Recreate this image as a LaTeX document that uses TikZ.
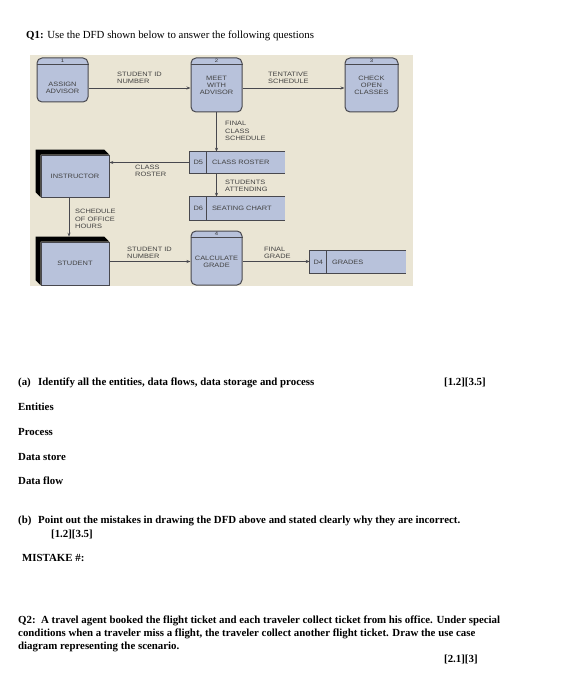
\documentclass[tikz,border=0pt]{standalone}
\usepackage{fontspec}
\setmainfont{Liberation Serif}
\newfontfamily\dfdfont[FakeStretch=1.18]{Liberation Sans}
\usetikzlibrary{arrows.meta}

\definecolor{dfdpaper}{RGB}{234,229,212}
\definecolor{dfdfill}{RGB}{184,194,219}
\definecolor{dfdline}{RGB}{72,72,78}

\begin{document}
\begin{tikzpicture}[x=1pt,y=-1pt,
  qtext/.style={anchor=base west, inner sep=0pt, font=\fontsize{10.85}{13}\selectfont},
  qbold/.style={qtext, font=\fontsize{10.85}{13}\selectfont\bfseries},
  process/.style={shape=rectangle, rounded corners=5pt, draw=dfdline, fill=dfdfill, line width=1pt, minimum width=51pt, inner sep=0pt},
  entity/.style={shape=rectangle, draw=dfdline, fill=dfdfill, line width=0.6pt, minimum width=68pt, inner sep=0pt},
  store/.style={shape=rectangle, fill=dfdfill, minimum width=95pt, inner sep=0pt},
  storeline/.style={draw=dfdline, line width=0.9pt},
  dfdtext/.style={inner sep=0pt, align=center, text=black!75, font=\dfdfont\fontsize{6.3}{7.3}\selectfont},
  flowlabel/.style={dfdtext, anchor=west, align=left},
  pnum/.style={inner sep=0pt, text=black!80, font=\dfdfont\fontsize{5}{5}\selectfont},
  flow/.style={draw=dfdline, line width=0.8pt, -{Stealth[length=4pt,width=3pt]}}]

\useasboundingbox (0,0) rectangle (560,690);
\fill[white] (0,0) rectangle (560,690);

% question text
\path (26,39) node (Q1) [qtext] {\textbf{Q1:} Use the DFD shown below to answer the following questions};

% diagram background
\fill[dfdpaper] (30,55) rectangle (413,286);

% processes
\path (62.5,80) node (P1) [process, minimum height=44pt] {};
\path (216.5,85) node (P2) [process, minimum height=54pt] {};
\path (371.5,85) node (P3) [process, minimum width=53pt, minimum height=54pt] {};
\path (216.5,258) node (P4) [process, minimum height=54pt] {};
\foreach \p/\n in {P1/1,P2/2,P3/3,P4/4} {
  \draw[dfdline, line width=0.7pt] ([yshift=-6.5pt]\p.north west) -- ([yshift=-6.5pt]\p.north east);
  \path ([yshift=-3.3pt]\p.north) node [pnum] {\n};
}
\path (62.5,88) node (P1t) [dfdtext] {ASSIGN\\ADVISOR};
\path (216.5,85.5) node (P2t) [dfdtext] {MEET\\WITH\\ADVISOR};
\path (371.5,85.5) node (P3t) [dfdtext] {CHECK\\OPEN\\CLASSES};
\path (216.5,261.5) node (P4t) [dfdtext] {CALCULATE\\GRADE};

% external entities
\path (75,176) node (I) [entity, minimum height=42pt] {};
\path (75,263.5) node (S) [entity, minimum height=43pt] {};
\foreach \e in {I,S} {
  \fill[black] (\e.south west) -- ([xshift=-5pt,yshift=5pt]\e.south west)
    -- ([xshift=-5pt,yshift=5pt]\e.north west) -- ([xshift=-5pt,yshift=5pt]\e.north east)
    -- (\e.north east) -- (\e.north west) -- cycle;
}
\path (I.center) node (It) [dfdtext] {INSTRUCTOR};
\path (S.center) node (St) [dfdtext] {STUDENT};

% data stores
\path (237.5,162.5) node (D5) [store, minimum height=21pt] {};
\path (237.5,208.5) node (D6) [store, minimum height=23pt] {};
\path (358,262) node (D4) [store, minimum width=96pt, minimum height=22pt] {};
\foreach \d in {D5,D6,D4} {
  \draw[storeline] (\d.north east) -- (\d.north west) -- (\d.south west) -- (\d.south east);
  \draw[storeline] ([xshift=17pt]\d.north west) -- ([xshift=17pt]\d.south west);
}
\path ([xshift=8.5pt]D5.west) node (D5id) [dfdtext] {D5};
\path ([xshift=22pt]D5.west) node (D5t) [flowlabel] {CLASS ROSTER};
\path ([xshift=8.5pt]D6.west) node (D6id) [dfdtext] {D6};
\path ([xshift=22pt]D6.west) node (D6t) [flowlabel] {SEATING CHART};
\path ([xshift=8.5pt]D4.west) node (D4id) [dfdtext] {D4};
\path ([xshift=22pt]D4.west) node (D4t) [flowlabel] {GRADES};

% data flows
\draw[flow] (P1.east |- P1t) -- (P2.west |- P1t);
\draw[flow] (P2.east |- P1t) -- (P3.west |- P1t);
\draw[flow] (P2.south) -- (P2.south |- D5.north);
\draw[flow] (P2.south |- D5.south) -- (P2.south |- D6.north);
\draw[flow] (D5.west) -- (D5.west -| I.east);
\draw[flow] ([xshift=-6pt]I.south) -- ([xshift=-6pt,yshift=5pt]S.north);
\draw[flow] (S.east |- P4t) -- (P4.west |- P4t);
\draw[flow] (P4.east |- P4t) -- (D4.west |- P4t);

\path (117,78) node (L12) [flowlabel] {STUDENT ID\\NUMBER};
\path (268,78) node (L23) [flowlabel] {TENTATIVE\\SCHEDULE};
\path (225,131) node (L25) [flowlabel] {FINAL\\CLASS\\SCHEDULE};
\path (135,171) node (L5I) [flowlabel] {CLASS\\ROSTER};
\path (225,185.5) node (L56) [flowlabel] {STUDENTS\\ATTENDING};
\path (75,219) node (LIS) [flowlabel] {SCHEDULE\\OF OFFICE\\HOURS};
\path (127,253) node (LS4) [flowlabel] {STUDENT ID\\NUMBER};
\path (264,253) node (L44) [flowlabel] {FINAL\\GRADE};

% questions
\path (18,385) node (Qa) [qbold] {(a)};
\path (38,385) node (QaText) [qbold] {Identify all the entities, data flows, data storage and process};
\path (444,385) node (QaMark) [qbold] {[1.2][3.5]};
\path (18,410) node (Ent) [qbold] {Entities};
\path (18,435) node (Proc) [qbold] {Process};
\path (18,460) node (Store) [qbold] {Data store};
\path (18,484) node (Flow) [qbold] {Data flow};
\path (18,523) node (Qb) [qbold] {(b)};
\path (38,523) node (QbText) [qbold] {Point out the mistakes in drawing the DFD above and stated clearly why they are incorrect.};
\path (51,537) node (QbMark) [qbold] {[1.2][3.5]};
\path (22,561) node (Mist) [qbold] {MISTAKE \#:};
\path (18,623) node (Q2a) [qbold] {Q2:\ \ A travel agent booked the flight ticket and each traveler collect ticket from his office. Under special};
\path (18,636) node (Q2b) [qbold] {conditions when a traveler miss a flight, the traveler collect another flight ticket. Draw the use case};
\path (18,649) node (Q2c) [qbold] {diagram representing the scenario.};
\path (444,662) node (Q2Mark) [qbold] {[2.1][3]};

\end{tikzpicture}
\end{document}
